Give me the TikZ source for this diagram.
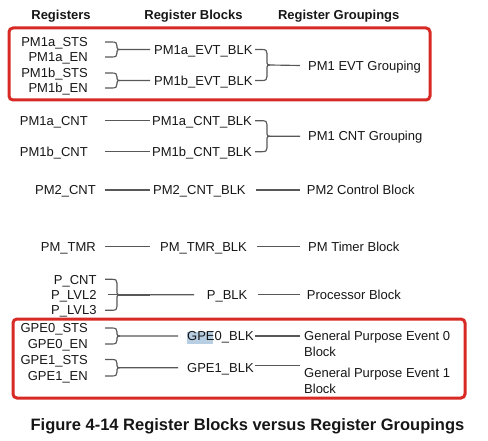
\documentclass[tikz,border=0pt]{standalone}
\usepackage{fontspec}
\setmainfont{Liberation Sans}
\definecolor{boxred}{RGB}{216,42,36}
\definecolor{linegray}{RGB}{88,88,88}
\definecolor{txt}{RGB}{22,22,22}
\definecolor{hilite}{RGB}{184,206,226}
\newcommand{\myjoin}[6]{%
  \pgfmathsetmacro{\ym}{(#3+#4)/2}%
  \draw[conn] (#1,#3) -- (#2-5,#3) .. controls (#2-1,#3) and (#2,#3+1) .. (#2,#3+4)
     -- (#2,\ym-2) .. controls (#2,\ym-0.5) and (#2+1,\ym) .. (#2+3,\ym);
  \draw[conn] (#1,#4) -- (#2-5,#4) .. controls (#2-1,#4) and (#2,#4-1) .. (#2,#4-4)
     -- (#2,\ym+2) .. controls (#2,\ym+0.5) and (#2+1,\ym) .. (#2+3,\ym)
     -- ([xshift=-#6]#5.west);
}
\begin{document}
\begin{tikzpicture}[x=1pt,y=-1pt,
  lbl/.style={font=\fontsize{13}{16}\selectfont, text=txt, inner sep=0pt,
              text height=9.4pt, text depth=0pt},
  mlbl/.style={font=\fontsize{13}{16}\selectfont, text=txt, inner sep=0pt,
              align=left, anchor=north west},
  hdr/.style={lbl, font=\bfseries\fontsize{13}{16}\selectfont},
  reg/.style={lbl, anchor=east},
  blk/.style={lbl, anchor=west},
  conn/.style={draw=linegray, line width=1.15pt},
  redbox/.style={draw=boxred, line width=3pt, rounded corners=4pt}]
\useasboundingbox (0,0) rectangle (488,441);

% headers
\node[hdr] (hreg) at (61,15) {Registers};
\node[hdr] (hblk) at (193.5,15) {Register Blocks};
\node[hdr] (hgrp) at (338.7,15) {Register Groupings};

% red boxes
\draw[redbox] (9,28) rectangle (430,100);
\draw[redbox] (13,319) rectangle (465,398);

% PM1 EVT
\node[reg] (r1) at (88,42) {PM1a\_STS};
\node[reg] (r2) at (88,57) {PM1a\_EN};
\node[reg] (r3) at (88,73) {PM1b\_STS};
\node[reg] (r4) at (88,88) {PM1b\_EN};
\node[blk] (b1) at (154,49.5) {PM1a\_EVT\_BLK};
\node[blk] (b2) at (154,80.5) {PM1b\_EVT\_BLK};
\node[blk] (g1) at (308,65.5) {PM1 EVT Grouping};
\myjoin{105}{117}{42}{57}{b1}{4pt}
\myjoin{105}{117}{73}{88}{b2}{4pt}
\myjoin{255}{267}{49.5}{80.5}{g1}{8pt}

% PM1 CNT
\node[reg] (r5) at (88,120.7) {PM1a\_CNT};
\node[reg] (r6) at (88,151.7) {PM1b\_CNT};
\node[blk] (b3) at (152,120.7) {PM1a\_CNT\_BLK};
\node[blk] (b4) at (152,151.7) {PM1b\_CNT\_BLK};
\node[blk] (g2) at (308,136.2) {PM1 CNT Grouping};
\draw[conn] ([xshift=17pt]r5.east) -- ([xshift=-2pt]b3.west);
\draw[conn] ([xshift=17pt]r6.east) -- ([xshift=-2pt]b4.west);
\myjoin{255}{267}{120.7}{151.7}{g2}{8pt}

% PM2
\node[reg] (r7) at (96,190) {PM2\_CNT};
\node[blk] (b5) at (153,190) {PM2\_CNT\_BLK};
\node[blk] (g3) at (306.7,190) {PM2 Control Block};
\draw[conn] ([xshift=9pt]r7.east) -- ([xshift=-3pt]b5.west);
\draw[conn] ([xshift=10pt]b5.east) -- ([xshift=-6.7pt]g3.west);

% PM TMR
\node[reg] (r8) at (96,246.7) {PM\_TMR};
\node[blk] (b6) at (160,246.7) {PM\_TMR\_BLK};
\node[blk] (g4) at (308,246.7) {PM Timer Block};
\draw[conn] ([xshift=9pt]r8.east) -- ([xshift=-10pt]b6.west);
\draw[conn] ([xshift=10pt]b6.east) -- ([xshift=-8pt]g4.west);

% Processor
\node[reg] (r9) at (96.7,279.3) {P\_CNT};
\node[reg] (r10) at (96.7,294.8) {P\_LVL2};
\node[reg] (r11) at (96.7,310.3) {P\_LVL3};
\node[blk] (b7) at (206.7,294.8) {P\_BLK};
\node[blk] (g5) at (306.7,294.8) {Processor Block};
\myjoin{105}{117}{279.3}{310.3}{b7}{12.7pt}
\draw[conn] ([xshift=11pt]r10.east) -- ([xshift=-12.7pt]b7.west);
\draw[draw=linegray, line width=1.8pt] (118,294.8) -- (150,294.8);
\draw[conn] ([xshift=10pt]b7.east) -- ([xshift=-6.7pt]g5.west);

% GPE
\fill[hilite] (187,331.5) rectangle (213,343.5);
\node[reg] (r12) at (88,328) {GPE0\_STS};
\node[reg] (r13) at (88,344) {GPE0\_EN};
\node[reg] (r14) at (88,359.5) {GPE1\_STS};
\node[reg] (r15) at (88,376) {GPE1\_EN};
\node[blk] (b8) at (187,336) {GPE0\_BLK};
\node[blk] (b9) at (187,367.7) {GPE1\_BLK};
\myjoin{105}{117}{328}{344}{b8}{9pt}
\myjoin{105}{117}{359.5}{376}{b9}{9pt}
\node[mlbl] (g6) at (304,331.3) {General Purpose Event 0\\Block};
\node[mlbl] (g7) at (304,368.3) {General Purpose Event 1\\Block};
\draw[conn] ([xshift=1pt]b8.east) -- (300,336);
\draw[conn] ([xshift=1pt,yshift=2pt]b9.east) -- (300,365.7);

% caption
\node[lbl, font=\bfseries\fontsize{16.5}{19}\selectfont, text height=11.8pt] (cap) at (247.5,425) {Figure 4-14 Register Blocks versus Register Groupings};
\end{tikzpicture}
\end{document}
